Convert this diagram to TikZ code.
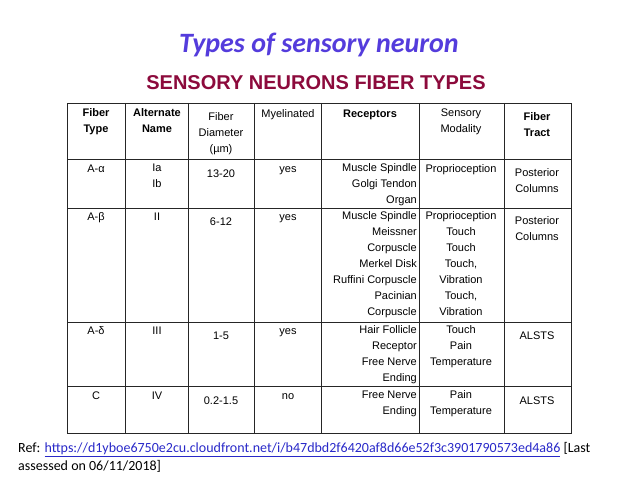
\documentclass[tikz,border=0pt]{standalone}
\usepackage{fontspec}
\setmainfont{Liberation Sans}
\newfontfamily\carl{Carlito}
\definecolor{ttl}{RGB}{84,60,220}
\definecolor{sub}{RGB}{140,10,60}
\definecolor{lnk}{RGB}{40,40,200}
\begin{document}
\begin{tikzpicture}[x=1pt,y=-1pt,
  cell/.style={anchor=north,yshift=8.5pt,inner sep=0pt,align=center,font=\fontsize{11}{16}\selectfont,execute at begin node={\rule{0pt}{8.5pt}}},
  rcell/.style={cell,anchor=north east,align=right},
  bcell/.style={cell,font=\bfseries\fontsize{11}{16}\selectfont},
  grid/.style={line width=0.9pt,black!85}]
\useasboundingbox (0,0) rectangle (638,478);
\node[font=\carl\bfseries\itshape\fontsize{28}{30}\selectfont,text=ttl] (title) at (319,45) {Types of sensory neuron};
\node[font=\bfseries\fontsize{20}{22}\selectfont,text=sub] (sub) at (316,83) {SENSORY NEURONS FIBER TYPES};
% grid
\draw[grid] (67,103) rectangle (571,433);
\foreach \x in {125,188,254,321,419,504} \draw[grid] (\x,103) -- (\x,433);
\foreach \y in {159,208,322,386} \draw[grid] (67,\y) -- (571,\y);
% header
\node[bcell] (h1) at (96,117) {Fiber\\Type};
\node[bcell] (h2) at (157,117) {Alternate\\Name};
\node[cell] (h3) at (221,121) {Fiber\\Diameter\\(µm)};
\node[cell] (h4) at (288,117) {Myelinated};
\node[bcell] (h5) at (370,117) {Receptors};
\node[cell] (h6) at (461,117) {Sensory\\Modality};
\node[bcell] (h7) at (537,121) {Fiber\\Tract};
% row 1
\node[cell] (a1) at (96,172) {A-α};
\node[cell] (a2) at (157,172) {Ia\\Ib};
\node[cell] (a3) at (221,177) {13-20};
\node[cell] (a4) at (288,172) {yes};
\node[rcell] (a5) at (417,172) {Muscle Spindle\\Golgi Tendon\\Organ};
\node[cell] (a6) at (461,172) {Proprioception};
\node[cell] (a7) at (537,177) {Posterior\\Columns};
% row 2
\node[cell] (b1) at (96,220) {A-β};
\node[cell] (b2) at (157,220) {II};
\node[cell] (b3) at (221,225) {6-12};
\node[cell] (b4) at (288,220) {yes};
\node[rcell] (b5) at (417,220) {Muscle Spindle\\Meissner\\Corpuscle\\Merkel Disk\\Ruffini Corpuscle\\Pacinian\\Corpuscle};
\node[cell] (b6) at (461,220) {Proprioception\\Touch\\Touch\\Touch,\\Vibration\\Touch,\\Vibration};
\node[cell] (b7) at (537,225) {Posterior\\Columns};
% row 3
\node[cell] (c1) at (96,334) {A-δ};
\node[cell] (c2) at (157,334) {III};
\node[cell] (c3) at (221,339) {1-5};
\node[cell] (c4) at (288,334) {yes};
\node[rcell] (c5) at (417,334) {Hair Follicle\\Receptor\\Free Nerve\\Ending};
\node[cell] (c6) at (461,334) {Touch\\Pain\\Temperature};
\node[cell] (c7) at (537,339) {ALSTS};
% row 4
\node[cell] (d1) at (96,399) {C};
\node[cell] (d2) at (157,399) {IV};
\node[cell] (d3) at (221,404) {0.2-1.5};
\node[cell] (d4) at (288,399) {no};
\node[rcell] (d5) at (417,399) {Free Nerve\\Ending};
\node[cell] (d6) at (461,399) {Pain\\Temperature};
\node[cell] (d7) at (537,404) {ALSTS};
% reference
\node[anchor=north west,inner sep=0pt,align=left,font=\carl\fontsize{14}{18}\selectfont] (ref) at (18,442)
 {Ref: \textcolor{lnk}{\underline{https://d1yboe6750e2cu.cloudfront.net/i/b47dbd2f6420af8d66e52f3c3901790573ed4a86}} [Last\\assessed on 06/11/2018]};
\end{tikzpicture}
\end{document}
